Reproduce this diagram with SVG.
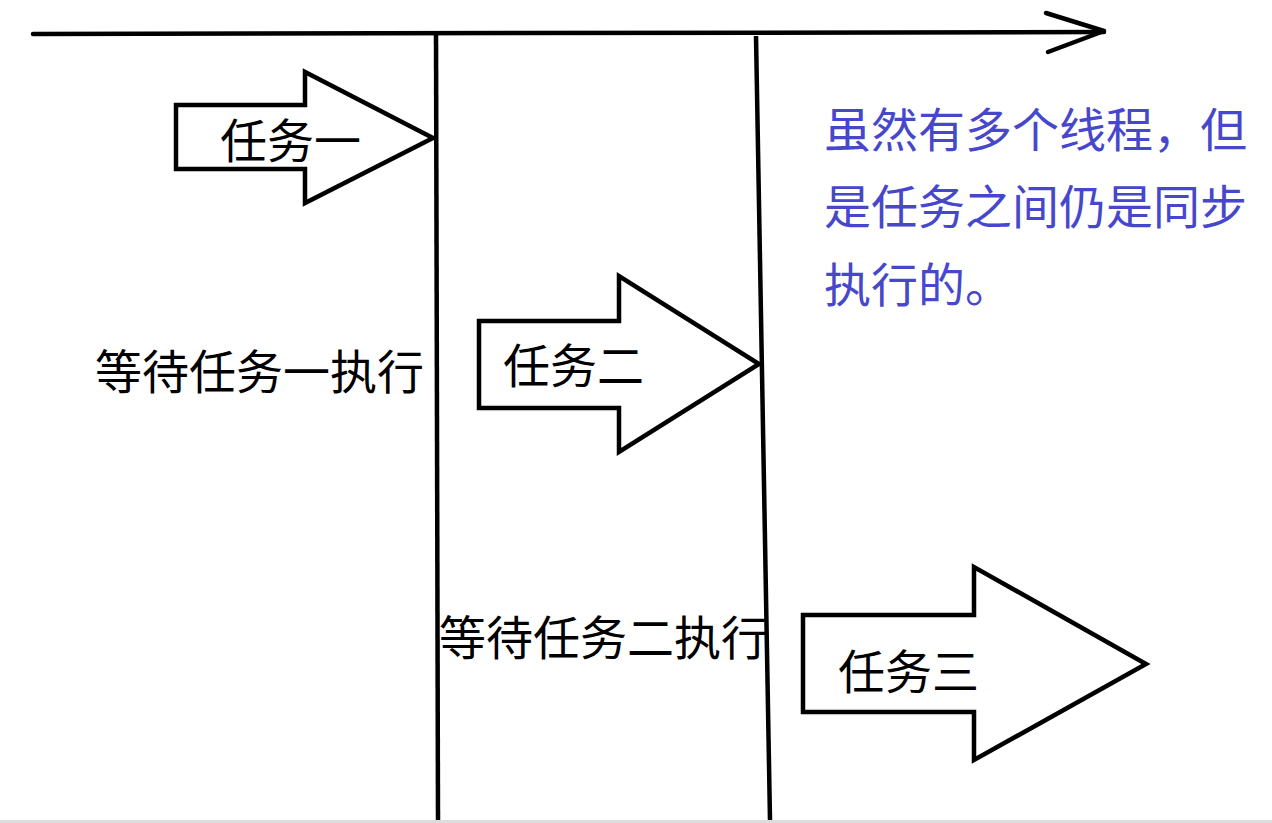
<svg xmlns="http://www.w3.org/2000/svg" width="1272" height="823" viewBox="0 0 1272 823">
<style>
.ln{stroke:#000;stroke-width:4.5;fill:none;stroke-linecap:round;stroke-linejoin:round}
.ar{stroke:#000;stroke-width:4.5;fill:#fff;stroke-linejoin:miter}
.t{font-family:"Microsoft YaHei","Noto Sans CJK SC",sans-serif;font-size:47px;fill:#000}
.b{font-family:"Microsoft YaHei","Noto Sans CJK SC",sans-serif;font-size:47px;fill:#4747cc}
</style>
<rect width="1272" height="823" fill="#fff"/>
<g id="connectors">
<line class="ln" x1="33" y1="34" x2="1104" y2="32"/>
<polyline class="ln" points="1046,13 1104,31 1048,52"/>
<line class="ln" x1="436" y1="32" x2="438" y2="820" style="stroke-linecap:butt"/>
<line class="ln" x1="756" y1="36" x2="770" y2="820" style="stroke-linecap:butt"/>
</g>
<g id="task1">
<polygon class="ar" points="176,105 305,105 305,72 433,138 305,203 305,169 176,169"/>
<text class="t" x="220" y="158">任务一</text>
</g>
<g id="task2">
<polygon class="ar" points="479,321 619,321 619,276 759,364 619,452 619,408 479,408"/>
<text class="t" x="503" y="383">任务二</text>
</g>
<g id="task3">
<polygon class="ar" points="803,615 974,615 974,567 1146,664 974,760 974,712 803,712"/>
<text class="t" x="838" y="689">任务三</text>
</g>
<g id="wait1">
<text class="t" x="95" y="389">等待任务一执行</text>
</g>
<g id="wait2">
<text class="t" x="439" y="655">等待任务二执行</text>
</g>
<g id="note">
<text class="b" x="824" y="147">虽然有多个线程，但</text>
<text class="b" x="824" y="224">是任务之间仍是同步</text>
<text class="b" x="824" y="302">执行的。</text>
</g>
<rect x="0" y="820" width="1272" height="3" fill="#dcdcdc"/>
</svg>
